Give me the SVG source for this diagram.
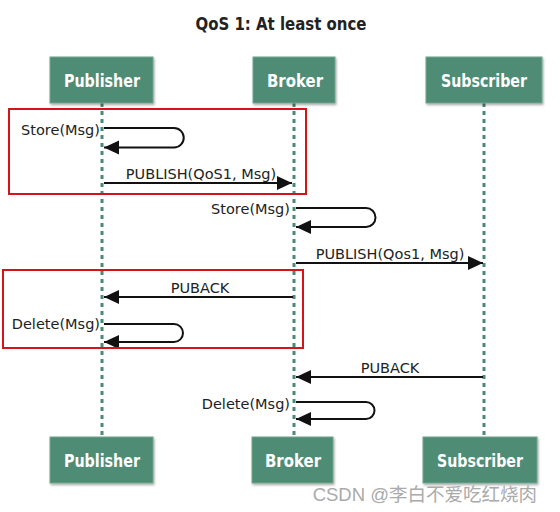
<svg xmlns="http://www.w3.org/2000/svg" width="560" height="512" viewBox="0 0 560 512">
<style>
.t{font-family:"DejaVu Sans",Verdana,sans-serif;font-size:14.5px;fill:#222}
.box{fill:#4f8c74;stroke:#6fa690;stroke-width:1}
.bt{font-family:"DejaVu Sans",Verdana,sans-serif;font-size:18px;font-weight:bold;fill:#fff;text-anchor:middle}
.life{stroke:#4a8a74;stroke-width:3;stroke-dasharray:4 4;fill:none}
.msg{stroke:#111;stroke-width:2;fill:none}
.red{fill:none;stroke:#d4141a;stroke-width:2}
</style>
<defs>
<marker id="ah" markerUnits="userSpaceOnUse" markerWidth="16" markerHeight="16" viewBox="0 0 16 16" refX="15" refY="8" orient="auto">
<path d="M0,1 L15,8 L0,15 Z" fill="#111"/>
</marker>
<filter id="sh" x="-10%" y="-10%" width="130%" height="130%">
<feDropShadow dx="1" dy="1.5" stdDeviation="1" flood-color="#000" flood-opacity="0.35"/>
</filter>
</defs>
<rect width="560" height="512" fill="#fff"/>
<text x="281" y="30" style="font-family:'DejaVu Sans',Verdana,sans-serif;font-size:18px;font-weight:bold;fill:#222" text-anchor="middle" textLength="171" lengthAdjust="spacingAndGlyphs">QoS 1: At least once</text>
<g id="lifelines">
<line class="life" x1="102" y1="103" x2="102" y2="437"/>
<line class="life" x1="294" y1="103" x2="294" y2="437"/>
<line class="life" x1="484" y1="103" x2="484" y2="437"/>
</g>
<g id="publisher-top"><rect class="box" x="50" y="57" width="103" height="46" filter="url(#sh)"/><text class="bt" x="102" y="87" textLength="76" lengthAdjust="spacingAndGlyphs">Publisher</text></g>
<g id="broker-top"><rect class="box" x="253" y="57" width="82" height="46" filter="url(#sh)"/><text class="bt" x="295" y="87" textLength="56" lengthAdjust="spacingAndGlyphs">Broker</text></g>
<g id="subscriber-top"><rect class="box" x="426" y="57" width="116" height="46" filter="url(#sh)"/><text class="bt" x="484" y="87" textLength="86" lengthAdjust="spacingAndGlyphs">Subscriber</text></g>
<g id="publisher-bottom"><rect class="box" x="50" y="437" width="103" height="46" filter="url(#sh)"/><text class="bt" x="102" y="467" textLength="76" lengthAdjust="spacingAndGlyphs">Publisher</text></g>
<g id="broker-bottom"><rect class="box" x="252" y="437" width="81" height="46" filter="url(#sh)"/><text class="bt" x="293" y="467" textLength="56" lengthAdjust="spacingAndGlyphs">Broker</text></g>
<g id="subscriber-bottom"><rect class="box" x="423" y="437" width="114" height="46" filter="url(#sh)"/><text class="bt" x="480" y="467" textLength="86" lengthAdjust="spacingAndGlyphs">Subscriber</text></g>
<g id="connectors">
<path class="msg" d="M104,128 H174 A9.5,9.5 0 0 1 174,147.5 H104" marker-end="url(#ah)"/>
<text class="t" x="100" y="135" text-anchor="end">Store(Msg)</text>
<line class="msg" x1="104" y1="183" x2="292" y2="183" marker-end="url(#ah)"/>
<text class="t" x="201" y="179" text-anchor="middle">PUBLISH(QoS1, Msg)</text>
<path class="msg" d="M296,208 H366 A9.5,9.5 0 0 1 366,227 H296" marker-end="url(#ah)"/>
<text class="t" x="290" y="214" text-anchor="end">Store(Msg)</text>
<line class="msg" x1="296" y1="263" x2="483" y2="263" marker-end="url(#ah)"/>
<text class="t" x="390" y="259" text-anchor="middle">PUBLISH(Qos1, Msg)</text>
<line class="msg" x1="293" y1="297" x2="104" y2="297" marker-end="url(#ah)"/>
<text class="t" x="200" y="293" text-anchor="middle">PUBACK</text>
<path class="msg" d="M104,324 H174 A9,9 0 0 1 174,342 H104" marker-end="url(#ah)"/>
<text class="t" x="100" y="329" text-anchor="end">Delete(Msg)</text>
<line class="msg" x1="483" y1="377" x2="296" y2="377" marker-end="url(#ah)"/>
<text class="t" x="390" y="373" text-anchor="middle">PUBACK</text>
<path class="msg" d="M296,402 H366 A8.5,8.5 0 0 1 366,419 H296" marker-end="url(#ah)"/>
<text class="t" x="290" y="409" text-anchor="end">Delete(Msg)</text>
</g>
<g id="highlights">
<rect class="red" x="9" y="109" width="297" height="85"/>
<rect class="red" x="3" y="270" width="300" height="78"/>
</g>
<text x="537" y="501" text-anchor="end" style="font-family:'Liberation Sans','Noto Sans CJK SC',sans-serif;font-size:18.5px;fill:#aaa">CSDN @李白不爱吃红烧肉</text>
</svg>
